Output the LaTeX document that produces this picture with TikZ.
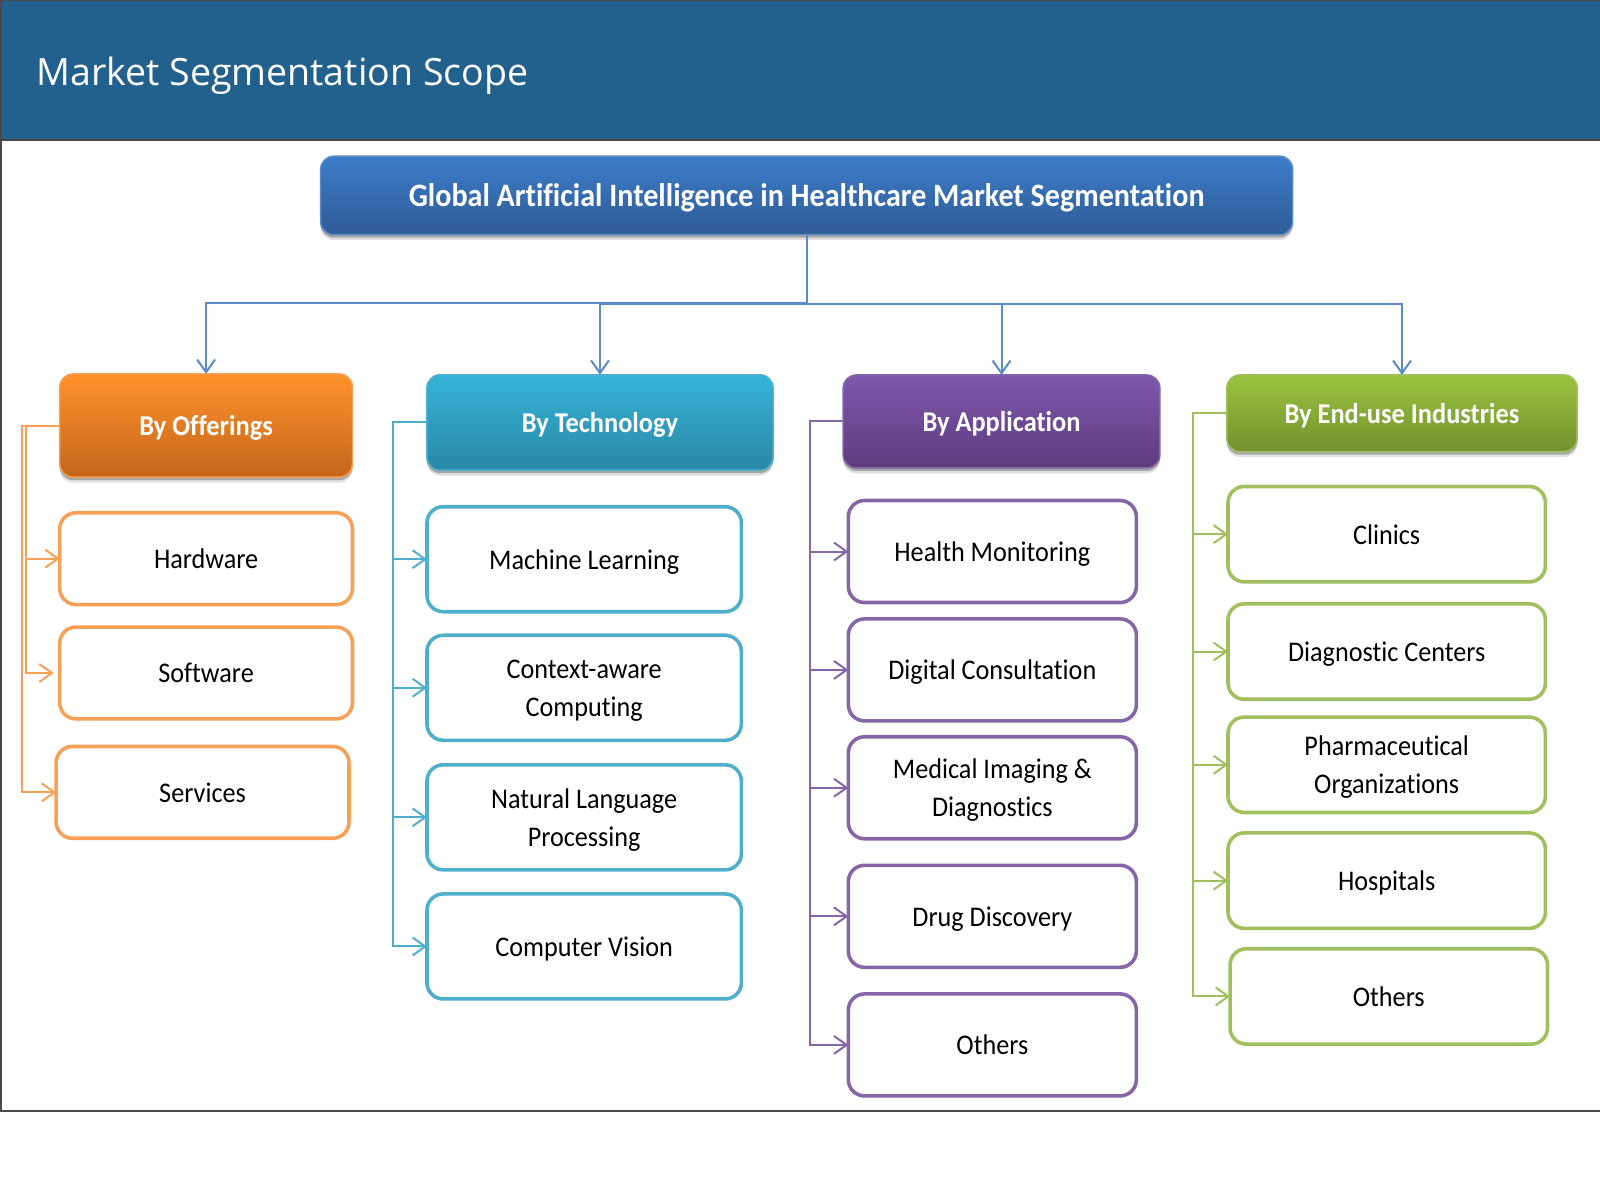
\documentclass[tikz,border=0pt]{standalone}
\usepackage{fontspec}
\setmainfont[FakeStretch=0.92,Ligatures=NoCommon]{Carlito}
\newfontfamily\bandfont{Open Sans}
\usetikzlibrary{arrows.meta}
\usetikzlibrary{shadows}
\definecolor{bandblue}{HTML}{22618D}
\definecolor{framegray}{HTML}{4A4A4A}
\definecolor{lineblue}{HTML}{5B8BC6}
\definecolor{lineorange}{HTML}{F9A057}
\definecolor{lineteal}{HTML}{4FAFCB}
\definecolor{linepurple}{HTML}{8567A8}
\definecolor{linegreen}{HTML}{A0C05E}
\definecolor{maintop}{HTML}{3C7CC9}
\definecolor{mainbot}{HTML}{2F5C96}
\definecolor{orangetop}{HTML}{FF912A}
\definecolor{orangebot}{HTML}{C4661C}
\definecolor{tealtop}{HTML}{35B3D8}
\definecolor{tealbot}{HTML}{2A88A5}
\definecolor{purpletop}{HTML}{7F57AD}
\definecolor{purplebot}{HTML}{5E3C7E}
\definecolor{greentop}{HTML}{9CC33F}
\definecolor{greenbot}{HTML}{72912F}
\tikzset{
  headbox/.style={rectangle,rounded corners=0.22cm,line width=0.7pt,outer sep=0pt,align=center,text=white,text depth=0pt,
    font=\fontsize{13.6}{17}\selectfont\bfseries,
    drop shadow={shadow xshift=0cm,shadow yshift=-0.09cm,opacity=0.12,fill=black},
    drop shadow={shadow xshift=0cm,shadow yshift=-0.05cm,opacity=0.25,fill=black}},
  itembox/.style={rectangle,rounded corners=0.27cm,line width=1.7pt,outer sep=0pt,fill=white,align=center,text=black,text depth=0pt,
    font=\fontsize{13.5}{18}\selectfont},
  link/.style={line width=0.95pt,-{Straight Barb[length=6pt,width=8.5pt,line width=0.95pt]}},
  orangebox/.style={itembox,draw=lineorange,minimum width=4.88cm,minimum height=1.53cm},
  tealbox/.style={itembox,draw=lineteal,minimum width=5.24cm,minimum height=1.75cm},
  purplebox/.style={itembox,draw=linepurple,minimum width=4.8cm,minimum height=1.7cm},
  greenbox/.style={itembox,draw=linegreen,minimum width=5.29cm,minimum height=1.59cm}
}
\begin{document}
\begin{tikzpicture}[y=-1cm]
\useasboundingbox (0,0) rectangle (26.667,19.917);
\fill[white] (0,0) rectangle (26.667,19.917);
\fill[bandblue] (0,0) rectangle (26.667,2.33);
\draw[framegray,line width=0.7pt] (26.667,0.01) -- (0.02,0.01) -- (0.02,18.517) -- (26.667,18.517);
\draw[framegray,line width=0.7pt] (0,2.33) -- (26.667,2.33);
\node[anchor=west,inner sep=0pt,text=white,font=\fontsize{17.8}{22}\selectfont\bandfont] (band) at (0.6,1.27) {Market Segmentation Scope};

\node[headbox,draw=lineblue,top color=maintop,bottom color=mainbot,minimum width=16.2cm,minimum height=1.31cm,font=\fontsize{15.5}{18}\selectfont\bfseries] (main) at (13.444,3.257) {Global Artificial Intelligence in Healthcare Market Segmentation};
\node[headbox,draw=lineorange,top color=orangetop,bottom color=orangebot,minimum width=4.88cm,minimum height=1.72cm] (offerings) at (3.435,7.092) {By Offerings};
\node[headbox,draw=lineteal,top color=tealtop,bottom color=tealbot,minimum width=5.77cm,minimum height=1.59cm] (technology) at (10.0,7.041) {By Technology};
\node[headbox,draw=linepurple,top color=purpletop,bottom color=purplebot,minimum width=5.28cm,minimum height=1.55cm] (application) at (16.692,7.024) {By Application};
\node[headbox,draw=linegreen,top color=greentop,bottom color=greenbot,minimum width=5.84cm,minimum height=1.28cm] (enduse) at (23.367,6.888) {By End-use Industries};

\node[orangebox] (hardware) at (3.435,9.311) {Hardware};
\node[orangebox] (software) at (3.435,11.216) {Software};
\node[orangebox] (services) at (3.376,13.206) {Services};

\node[tealbox] (learning) at (9.736,9.320) {Machine Learning};
\node[tealbox] (context) at (9.736,11.463) {Context-aware\\Computing};
\node[tealbox] (language) at (9.736,13.622) {Natural Language\\Processing};
\node[tealbox] (vision) at (9.736,15.774) {Computer Vision};

\node[purplebox] (monitoring) at (16.539,9.192) {Health Monitoring};
\node[purplebox] (consultation) at (16.539,11.165) {Digital Consultation};
\node[purplebox] (imaging) at (16.539,13.129) {Medical Imaging \&\\Diagnostics};
\node[purplebox] (discovery) at (16.539,15.272) {Drug Discovery};
\node[purplebox] (othersapp) at (16.539,17.415) {Others};

\node[greenbox] (clinics) at (23.112,8.903) {Clinics};
\node[greenbox] (centers) at (23.112,10.859) {Diagnostic Centers};
\node[greenbox] (pharma) at (23.112,12.746) {Pharmaceutical\\Organizations};
\node[greenbox] (hospitals) at (23.112,14.677) {Hospitals};
\node[greenbox] (othersend) at (23.146,16.607) {Others};

\draw[link,lineblue] (main.south) -- ++(0,1.14) -| (offerings.north);
\draw[link,lineblue] (main.south) -- ++(0,1.16) -| (technology.north);
\draw[link,lineblue] (main.south) -- ++(0,1.16) -| (application.north);
\draw[link,lineblue] (main.south) -- ++(0,1.16) -| (enduse.north);

\draw[link,lineorange] (offerings.west) -- ++(-0.56,0) |- (hardware.west);
\draw[link,lineorange,shorten >=0.1cm] (offerings.west) -- ++(-0.56,0) |- (software.west);
\draw[link,lineorange] (offerings.west) -- ++(-0.63,0) |- (services.west);

\draw[link,lineteal] (technology.west) -- ++(-0.56,0) |- (learning.west);
\draw[link,lineteal] (technology.west) -- ++(-0.56,0) |- (context.west);
\draw[link,lineteal] (technology.west) -- ++(-0.56,0) |- (language.west);
\draw[link,lineteal] (technology.west) -- ++(-0.56,0) |- (vision.west);

\draw[link,linepurple] (application.west) -- ++(-0.56,0) |- (monitoring.west);
\draw[link,linepurple] (application.west) -- ++(-0.56,0) |- (consultation.west);
\draw[link,linepurple] (application.west) -- ++(-0.56,0) |- (imaging.west);
\draw[link,linepurple] (application.west) -- ++(-0.56,0) |- (discovery.west);
\draw[link,linepurple] (application.west) -- ++(-0.56,0) |- (othersapp.west);

\draw[link,linegreen] (enduse.west) -- ++(-0.56,0) |- (clinics.west);
\draw[link,linegreen] (enduse.west) -- ++(-0.56,0) |- (centers.west);
\draw[link,linegreen] (enduse.west) -- ++(-0.56,0) |- (pharma.west);
\draw[link,linegreen] (enduse.west) -- ++(-0.56,0) |- (hospitals.west);
\draw[link,linegreen] (enduse.west) -- ++(-0.56,0) |- (othersend.west);

\end{tikzpicture}
\end{document}
